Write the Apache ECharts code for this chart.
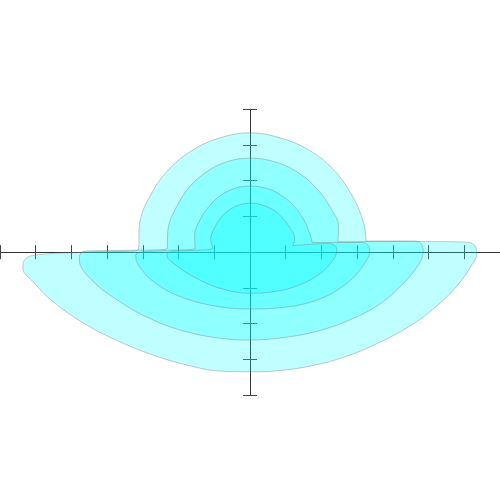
<!DOCTYPE html>
<html>
<head>
<meta charset="utf-8">
<script src="https://cdn.jsdelivr.net/npm/echarts@6/dist/echarts.min.js"></script>
<style>
html,body{margin:0;padding:0;background:#fff;}
#chart{width:500px;height:500px;}
</style>
</head>
<body>
<div id="chart"></div>
<script>
// Axis ranges (no tick labels are shown in the reference)
var xRange = [-7, 7];
var yRange = [-4, 4];

// Outline points of the four nested shapes, [x, y] in axis units
var shapeA = [
  [3.25,0.31],[3.17,0.86],[2.82,1.65],[2.3,2.35],[1.63,2.87],[0.84,3.2],[0,3.34],[-0.84,3.2],[-1.6,2.86],[-2.26,2.33],[-2.76,1.64],[-3.08,0.86],[-3.14,0.06],
  [-4.6,0.0],[-6.0,-0.08],[-6.3,-0.2],[-6.36,-0.45],[-6.07,-0.83],[-5.51,-1.39],[-4.57,-2.04],[-3.64,-2.51],[-2.72,-2.88],[-1.77,-3.16],[-0.84,-3.33],[0,-3.35],
  [0.78,-3.32],[1.73,-3.18],[2.66,-2.93],[3.58,-2.55],[4.52,-2.04],[5.26,-1.48],[5.82,-0.92],[6.21,-0.36],[6.35,-0.05],[6.28,0.2],[6.05,0.28],[4.6,0.3],[3.25,0.31]
];
var shapeB = [
  [2.46,0.29],[2.48,0.68],[2.22,1.3],[1.8,1.85],[1.28,2.27],[0.66,2.54],[0,2.63],[-0.62,2.54],[-1.18,2.27],[-1.67,1.85],[-2.04,1.3],[-2.29,0.68],[-2.33,0.09],
  [-3.5,0.05],[-4.6,0.03],[-4.75,-0.05],[-4.78,-0.2],[-4.48,-0.73],[-3.64,-1.39],[-2.71,-1.9],[-1.77,-2.23],[-0.84,-2.41],[0,-2.46],
  [0.79,-2.41],[1.73,-2.25],[2.66,-1.95],[3.59,-1.48],[4.34,-0.83],[4.71,-0.36],[4.85,0.0],[4.8,0.22],[4.62,0.31],[3.5,0.3],[2.46,0.29]
];
var shapeC = [
  [1.74,0.27],[1.68,0.5],[1.5,0.92],[1.22,1.3],[0.86,1.6],[0.45,1.79],[0,1.85],[-0.42,1.79],[-0.8,1.6],[-1.13,1.3],[-1.39,0.92],[-1.55,0.46],[-1.54,0.11],
  [-2.3,0.05],[-3.05,0.0],[-3.2,-0.08],[-3.1,-0.4],[-2.6,-0.9],[-1.85,-1.28],[-0.9,-1.52],[0,-1.59],
  [0.9,-1.55],[1.9,-1.33],[2.65,-0.92],[3.15,-0.4],[3.35,0.05],[3.3,0.2],[3.15,0.27],[2.45,0.27],[1.74,0.27]
];
var shapeD = [
  [1.2,0.18],[1.25,0.38],[1.11,0.69],[0.9,0.97],[0.64,1.19],[0.33,1.32],[0,1.37],[-0.3,1.32],[-0.57,1.19],[-0.81,0.97],[-0.99,0.69],[-1.1,0.36],[-1.04,0.11],
  [-1.6,0.05],[-2.2,0.02],[-2.33,-0.08],[-2.05,-0.38],[-1.5,-0.73],[-0.84,-1.01],[0,-1.15],
  [0.7,-1.1],[1.3,-0.95],[1.91,-0.64],[2.29,-0.27],[2.43,0.05],[2.38,0.18],[2.2,0.24],[1.7,0.22],[1.2,0.18]
];

var shapes = [shapeA, shapeB, shapeC, shapeD];

var chart = echarts.init(document.getElementById('chart'), null, {renderer: 'canvas'});

function xAxisDef(pos) {
  return {
    type: 'value', position: pos, min: xRange[0], max: xRange[1], interval: 1,
    axisLine: {show: true, onZero: true, onZeroAxisIndex: 0, lineStyle: {color: '#333', width: 1}},
    axisTick: {show: true, length: 7, lineStyle: {color: '#444', width: 1}},
    axisLabel: {show: false},
    splitLine: {show: false}
  };
}
function yAxisDef(pos) {
  return {
    type: 'value', position: pos, min: yRange[0], max: yRange[1], interval: 1,
    axisLine: {show: true, onZero: true, onZeroAxisIndex: 0, lineStyle: {color: '#333', width: 1}},
    axisTick: {show: true, length: 7, lineStyle: {color: '#444', width: 1}},
    axisLabel: {show: false},
    splitLine: {show: false}
  };
}

var option = {
  animation: false,
  backgroundColor: '#fff',
  grid: {left: 0, right: 0, top: 109.3, bottom: 105, containLabel: false},
  xAxis: [xAxisDef('bottom'), xAxisDef('top')],
  yAxis: [yAxisDef('left'), yAxisDef('right')],
  series: shapes.map(function (s) {
    return {
      type: 'line',
      xAxisIndex: 0,
      yAxisIndex: 0,
      data: s,
      smooth: 0.4,
      symbol: 'none',
      showSymbol: false,
      silent: true,
      clip: false,
      lineStyle: {color: 'rgba(120,120,120,0.4)', width: 1},
      areaStyle: {color: 'rgba(0,255,255,0.25)', opacity: 1, origin: 0}
    };
  })
};
chart.setOption(option);
</script>
</body>
</html>
